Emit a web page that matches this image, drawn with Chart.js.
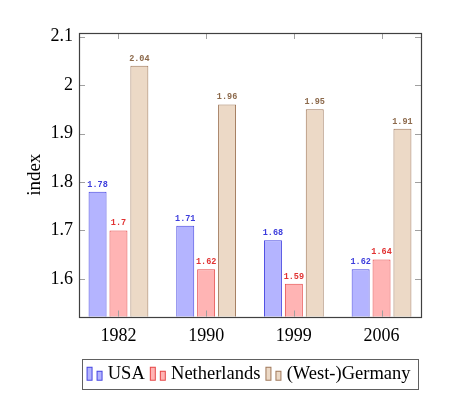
<!DOCTYPE html>
<html>
<head>
<meta charset="utf-8">
<script src="https://cdn.jsdelivr.net/npm/chart.js@4"></script>
<style>
html,body{margin:0;padding:0;background:#fff;}
#c{display:block;}
</style>
</head>
<body>
<canvas id="c" width="474" height="412"></canvas>
<script>
const years = ['1982', '1990', '1999', '2006'];
const seriesNames = ['USA', 'Netherlands', '(West-)Germany'];
const usa = [1.78, 1.71, 1.68, 1.62];
const netherlands = [1.7, 1.62, 1.59, 1.64];
const germany = [2.04, 1.96, 1.95, 1.91];
const yTicks = [1.6, 1.7, 1.8, 1.9, 2.0, 2.1];

const fills = ['rgb(180,180,255)', 'rgb(255,180,180)', 'rgb(236,217,198)'];
const borders = ['rgb(70,70,225)', 'rgb(230,70,70)', 'rgb(160,120,90)'];
const labelColors = ['rgb(60,60,220)', 'rgb(225,50,50)', 'rgb(140,105,75)'];

function legendIcon(fill, stroke) {
  const cv = document.createElement('canvas');
  cv.width = 32; cv.height = 20;
  const g = cv.getContext('2d');
  g.fillStyle = fill; g.strokeStyle = stroke; g.lineWidth = 1;
  g.fillRect(10.5, 3.5, 5, 13); g.strokeRect(10.5, 3.5, 5, 13);
  g.fillRect(20.5, 7.5, 5, 9); g.strokeRect(20.5, 7.5, 5, 9);
  return cv;
}

const allSeries = [usa, netherlands, germany];
const datasets = allSeries.map((vals, i) => ({
  label: seriesNames[i],
  data: vals.map((v, j) => ({x: j, y: v})),
  backgroundColor: fills[i],
  borderColor: borders[i],
  borderWidth: 1,
  categoryPercentage: 0.715,
  barPercentage: 0.86,
  pointStyle: legendIcon(fills[i], borders[i])
}));

const serif = 'Liberation Serif';

const framePlugin = {
  id: 'frame',
  afterDatasetsDraw(chart) {
    const ctx = chart.ctx;
    const a = chart.chartArea;
    const ys = chart.scales.y, xs = chart.scales.x;
    ctx.save();
    // value labels
    ctx.font = 'bold 8.5px "Liberation Mono"';
    ctx.textAlign = 'center';
    ctx.textBaseline = 'bottom';
    chart.data.datasets.forEach((ds, i) => {
      const meta = chart.getDatasetMeta(i);
      meta.data.forEach((el, j) => {
        ctx.fillStyle = labelColors[i];
        ctx.fillText(String(allSeries[i][j]), el.x, el.y - 3);
      });
    });
    // ticks
    ctx.strokeStyle = '#a0a0a0';
    ctx.lineWidth = 1;
    ctx.beginPath();
    yTicks.forEach(v => {
      const p = Math.round(ys.getPixelForValue(v)) + 0.5;
      ctx.moveTo(a.left, p); ctx.lineTo(a.left + 6, p);
      ctx.moveTo(a.right, p); ctx.lineTo(a.right - 6, p);
    });
    years.forEach((y, j) => {
      const p = Math.round(xs.getPixelForValue(j)) + 0.5;
      ctx.moveTo(p, a.bottom); ctx.lineTo(p, a.bottom - 6);
      ctx.moveTo(p, a.top); ctx.lineTo(p, a.top + 6);
    });
    ctx.stroke();
    // frame
    ctx.strokeStyle = '#404040';
    ctx.lineWidth = 1.2;
    ctx.strokeRect(Math.round(a.left) + 0.5, Math.round(a.top) + 0.5,
                   Math.round(a.right - a.left), Math.round(a.bottom - a.top));
    ctx.restore();
  },
  afterDraw(chart) {
    const lg = chart.legend;
    if (!lg || !lg.legendHitBoxes || !lg.legendHitBoxes.length) return;
    const hb = lg.legendHitBoxes;
    let l = Infinity, r = -Infinity, cy = 0;
    hb.forEach(h => { l = Math.min(l, h.left); r = Math.max(r, h.left + h.width); cy += h.top + h.height / 2; });
    cy /= hb.length;
    const ctx = chart.ctx;
    ctx.save();
    ctx.strokeStyle = '#606060';
    ctx.lineWidth = 1;
    ctx.strokeRect(Math.round(l - 5) + 0.5, Math.round(cy - 15) + 0.5, Math.round(r - l + 12), 30);
    ctx.restore();
  }
};

new Chart(document.getElementById('c'), {
  type: 'bar',
  data: { datasets },
  options: {
    responsive: false,
    animation: false,
    devicePixelRatio: 1,
    layout: { padding: { left: 23, right: 0, top: 33, bottom: 19 } },
    plugins: {
      tooltip: { enabled: false },
      legend: {
        position: 'bottom',
        labels: {
          usePointStyle: true,
          boxWidth: 12,
          boxHeight: 18,
          padding: 5,
          color: '#000',
          font: { family: serif, size: 18.5 }
        }
      }
    },
    scales: {
      x: {
        type: 'linear',
        offset: false,
        min: -0.45,
        max: 3.45,
        grid: { display: false, drawTicks: false },
        border: { display: false },
        afterBuildTicks(s) { s.ticks = years.map((y, j) => ({ value: j })); },
        afterFit(s) { s.height = 43; },
        ticks: {
          padding: 9,
          color: '#000',
          maxRotation: 0,
          autoSkip: false,
          font: { family: serif, size: 18 },
          callback: (v) => years[v]
        }
      },
      y: {
        min: 1.5225,
        max: 2.1075,
        grid: { display: false, drawTicks: false },
        border: { display: false },
        afterBuildTicks(s) { s.ticks = yTicks.map(v => ({ value: v })); },
        afterFit(s) { s.width = 56; },
        title: { display: true, text: 'index', color: '#000', font: { family: serif, size: 19 }, padding: 1 },
        ticks: {
          padding: 6,
          color: '#000',
          font: { family: serif, size: 18 },
          callback: (v) => String(+Number(v).toFixed(2))
        }
      },
      y2: {
        type: 'linear',
        position: 'right',
        display: true,
        grid: { display: false, drawTicks: false },
        border: { display: false },
        ticks: { display: false },
        afterFit(s) { s.width = 53; }
      }
    }
  },
  plugins: [framePlugin]
});
</script>
</body>
</html>
